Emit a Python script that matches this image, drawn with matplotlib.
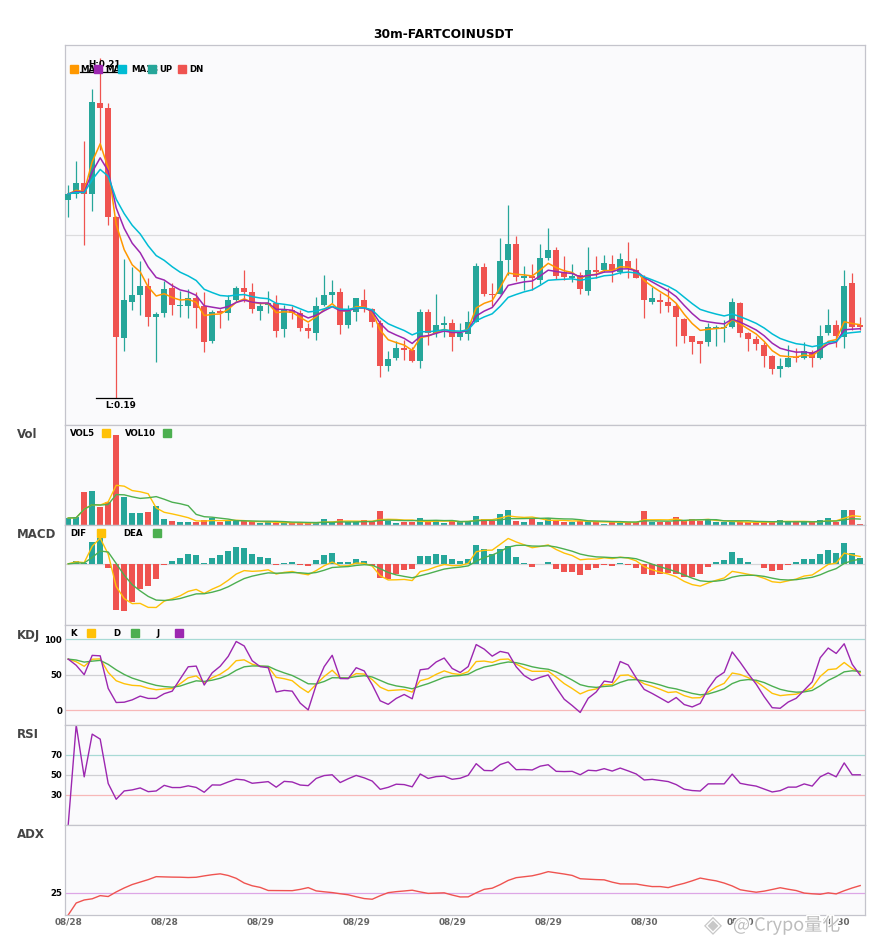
import matplotlib
matplotlib.use('Agg')
import matplotlib.pyplot as plt
import matplotlib.patheffects as pe
from matplotlib.ticker import MultipleLocator
from matplotlib.transforms import offset_copy
import numpy as np
import pandas as pd

symbol = '30m-FARTCOINUSDT'
times = pd.date_range('2025-08-28 13:00', periods=100, freq='30min')

opens = [0.20210, 0.20246, 0.20312, 0.20246, 0.20792, 0.20762, 0.20108, 0.19382, 0.19598, 0.19640,
         0.19694, 0.19508, 0.19532, 0.19682, 0.19574, 0.19574, 0.19622, 0.19574, 0.19364, 0.19544,
         0.19532, 0.19610, 0.19682, 0.19658, 0.19544, 0.19580, 0.19592, 0.19436, 0.19550, 0.19532,
         0.19442, 0.19412, 0.19580, 0.19640, 0.19658, 0.19460, 0.19538, 0.19610, 0.19556, 0.19472,
         0.19214, 0.19262, 0.19322, 0.19310, 0.19244, 0.19538, 0.19412, 0.19460, 0.19472, 0.19388,
         0.19406, 0.19478, 0.19808, 0.19646, 0.19646, 0.19850, 0.19946, 0.19742, 0.19754, 0.19730,
         0.19862, 0.19910, 0.19778, 0.19742, 0.19760, 0.19664, 0.19790, 0.19790, 0.19826, 0.19778,
         0.19844, 0.19790, 0.19748, 0.19598, 0.19610, 0.19598, 0.19574, 0.19496, 0.19394, 0.19364,
         0.19358, 0.19442, 0.19442, 0.19448, 0.19592, 0.19412, 0.19376, 0.19340, 0.19274, 0.19196,
         0.19208, 0.19268, 0.19262, 0.19298, 0.19262, 0.19412, 0.19460, 0.19388, 0.19712, 0.19460]
highs = [0.20300, 0.20444, 0.20564, 0.20876, 0.21062, 0.20792, 0.20114, 0.19856, 0.19808, 0.19844,
         0.19742, 0.19538, 0.19724, 0.19712, 0.19664, 0.19676, 0.19658, 0.19658, 0.19550, 0.19556,
         0.19640, 0.19694, 0.19790, 0.19712, 0.19598, 0.19664, 0.19640, 0.19580, 0.19574, 0.19550,
         0.19472, 0.19628, 0.19760, 0.19730, 0.19682, 0.19580, 0.19622, 0.19676, 0.19562, 0.19490,
         0.19304, 0.19364, 0.19370, 0.19328, 0.19556, 0.19556, 0.19646, 0.19514, 0.19496, 0.19472,
         0.19544, 0.19832, 0.19832, 0.19712, 0.19982, 0.20180, 0.19994, 0.19814, 0.19826, 0.19946,
         0.20042, 0.19928, 0.19874, 0.19826, 0.19778, 0.19928, 0.19874, 0.19880, 0.19880, 0.19892,
         0.19958, 0.19862, 0.19760, 0.19688, 0.19652, 0.19682, 0.19592, 0.19502, 0.19394, 0.19364,
         0.19472, 0.19460, 0.19490, 0.19622, 0.19598, 0.19418, 0.19394, 0.19358, 0.19280, 0.19262,
         0.19340, 0.19322, 0.19358, 0.19310, 0.19460, 0.19556, 0.19490, 0.19790, 0.19772, 0.19508]
lows = [0.20108, 0.20222, 0.19940, 0.20144, 0.20510, 0.20060, 0.19022, 0.19304, 0.19550, 0.19520,
        0.19454, 0.19238, 0.19508, 0.19520, 0.19508, 0.19502, 0.19442, 0.19298, 0.19352, 0.19442,
        0.19490, 0.19598, 0.19598, 0.19532, 0.19490, 0.19532, 0.19388, 0.19388, 0.19496, 0.19424,
        0.19382, 0.19370, 0.19574, 0.19592, 0.19406, 0.19442, 0.19484, 0.19538, 0.19448, 0.19148,
        0.19184, 0.19250, 0.19250, 0.19238, 0.19202, 0.19340, 0.19388, 0.19388, 0.19304, 0.19370,
        0.19370, 0.19478, 0.19634, 0.19574, 0.19646, 0.19760, 0.19724, 0.19670, 0.19670, 0.19706,
        0.19850, 0.19736, 0.19730, 0.19718, 0.19646, 0.19640, 0.19742, 0.19778, 0.19718, 0.19766,
        0.19742, 0.19742, 0.19502, 0.19586, 0.19532, 0.19538, 0.19334, 0.19352, 0.19286, 0.19232,
        0.19334, 0.19334, 0.19358, 0.19442, 0.19388, 0.19304, 0.19310, 0.19208, 0.19166, 0.19148,
        0.19208, 0.19238, 0.19256, 0.19208, 0.19256, 0.19400, 0.19328, 0.19322, 0.19430, 0.19430]
closes = [0.20246, 0.20312, 0.20246, 0.20798, 0.20762, 0.20108, 0.19388, 0.19610, 0.19640, 0.19694,
          0.19508, 0.19526, 0.19676, 0.19580, 0.19580, 0.19622, 0.19562, 0.19358, 0.19538, 0.19532,
          0.19610, 0.19682, 0.19658, 0.19556, 0.19574, 0.19592, 0.19424, 0.19550, 0.19532, 0.19442,
          0.19424, 0.19574, 0.19640, 0.19658, 0.19460, 0.19544, 0.19622, 0.19562, 0.19478, 0.19214,
          0.19256, 0.19322, 0.19310, 0.19244, 0.19538, 0.19412, 0.19460, 0.19472, 0.19388, 0.19412,
          0.19478, 0.19814, 0.19646, 0.19640, 0.19844, 0.19946, 0.19748, 0.19754, 0.19742, 0.19862,
          0.19910, 0.19754, 0.19748, 0.19754, 0.19676, 0.19790, 0.19778, 0.19832, 0.19784, 0.19856,
          0.19802, 0.19742, 0.19610, 0.19622, 0.19598, 0.19574, 0.19508, 0.19394, 0.19358, 0.19346,
          0.19448, 0.19448, 0.19448, 0.19598, 0.19412, 0.19376, 0.19346, 0.19274, 0.19196, 0.19214,
          0.19262, 0.19262, 0.19304, 0.19262, 0.19394, 0.19460, 0.19394, 0.19694, 0.19448, 0.19448]
# volume in millions
volumes = [2.1, 2.3, 9.8, 10.3, 5.5, 7.0, 27.1, 8.5, 3.7, 3.7,
           4.0, 5.8, 1.9, 1.3, 1.0, 1.0, 1.0, 1.6, 2.1, 0.8,
           1.3, 1.3, 1.1, 0.8, 0.5, 1.0, 0.6, 0.7, 0.6, 0.5,
           0.6, 1.0, 1.7, 0.8, 1.7, 0.8, 0.8, 1.6, 0.8, 4.1,
           1.3, 0.5, 0.8, 0.8, 2.2, 0.8, 1.3, 0.7, 1.1, 1.0,
           1.3, 2.8, 1.8, 1.1, 3.4, 4.6, 1.3, 1.0, 1.7, 1.0,
           2.1, 1.3, 0.8, 0.8, 1.3, 1.3, 0.8, 0.4, 0.8, 0.7,
           1.0, 1.0, 4.3, 0.8, 0.8, 0.8, 2.5, 1.3, 1.9, 1.3,
           1.5, 0.8, 0.8, 1.0, 0.8, 0.8, 0.8, 0.8, 1.3, 1.6,
           1.0, 0.8, 0.8, 0.8, 1.6, 2.2, 1.0, 4.6, 4.6, 0.4]

UP = '#26A69A'
DN = '#EF5350'

df = pd.DataFrame({'open': opens, 'high': highs, 'low': lows, 'close': closes, 'vol': volumes})
n = len(df)
x = np.arange(n)
c = df['close']

#------------Indicadores
ma5 = c.ewm(span=5, adjust=False).mean()
ma8 = c.ewm(span=8, adjust=False).mean()
ma13 = c.ewm(span=13, adjust=False).mean()
vol5 = df['vol'].rolling(5, min_periods=1).mean()
vol10 = df['vol'].rolling(10, min_periods=1).mean()

dif = c.ewm(span=6, adjust=False).mean() - c.ewm(span=13, adjust=False).mean()
dea = dif.ewm(span=5, adjust=False).mean()
hist = 2 * (dif - dea)

llv = df['low'].rolling(9, min_periods=1).min()
hhv = df['high'].rolling(9, min_periods=1).max()
rsv = (c - llv) / (hhv - llv) * 100
k = rsv.ewm(com=2, adjust=False).mean()
d = k.ewm(com=2, adjust=False).mean()
j = 3 * k - 2 * d

delta = c.diff().fillna(0)
gain = delta.clip(lower=0).ewm(alpha=1 / 14, adjust=False).mean()
loss = (-delta.clip(upper=0)).ewm(alpha=1 / 14, adjust=False).mean()
rsi = (100 * gain / (gain + loss)).fillna(0)

prev_c = c.shift(1)
tr = pd.concat([df['high'] - df['low'], (df['high'] - prev_c).abs(),
                (df['low'] - prev_c).abs()], axis=1).max(axis=1)
up_move = df['high'].diff()
dn_move = -df['low'].diff()
pdm = pd.Series(np.where((up_move > dn_move) & (up_move > 0), up_move, 0.0))
ndm = pd.Series(np.where((dn_move > up_move) & (dn_move > 0), dn_move, 0.0))
atr = tr.ewm(span=14, adjust=False).mean()
pdi = 100 * pdm.ewm(span=14, adjust=False).mean() / atr
ndi = 100 * ndm.ewm(span=14, adjust=False).mean() / atr
dx = (100 * (pdi - ndi).abs() / (pdi + ndi)).fillna(0)
adx = dx.ewm(span=14, adjust=False).mean()

#------------Figura
W, H = 885, 950
fig = plt.figure(figsize=(W / 100, H / 100), dpi=100)

def panel(top, bottom):
    ax = fig.add_axes([65 / W, 1 - bottom / H, 800 / W, (bottom - top) / H])
    ax.set_facecolor('#FAFAFC')
    for s in ax.spines.values():
        s.set_color('#C4C4CC')
        s.set_linewidth(0.9)
    ax.set_xlim(-0.4, n - 0.4)
    ax.tick_params(length=0, labelsize=6.2, pad=2)
    ax.set_xticks([])
    return ax

ax1 = panel(45, 425)
ax2 = panel(425, 525)
ax3 = panel(525, 625)
ax4 = panel(625, 725)
ax5 = panel(725, 825)
ax6 = panel(825, 915)

def legend(ax, items, frac_y, ax_w=800.0):
    for label, tx, color, sx in items:
        ax.text(tx / ax_w, frac_y, label, transform=ax.transAxes, fontsize=6.2,
                fontweight='bold', va='center', ha='left', zorder=5)
        ax.plot([sx / ax_w], [frac_y], marker='s', markersize=5.5, color=color,
                transform=ax.transAxes, clip_on=False, zorder=6, linestyle='none')

#--------Velas
colors = [UP if cl >= op else DN for op, cl in zip(opens, closes)]
body = np.maximum(np.abs(c - df['open']), 0.00004)
ax1.vlines(x, df['low'], df['high'], colors=colors, linewidth=0.9, zorder=2)
ax1.bar(x, body, bottom=np.minimum(df['open'], c), width=0.75, color=colors, linewidth=0, zorder=3)
ax1.plot(x, ma5, color='#FF9800', lw=1.1, zorder=4)
ax1.plot(x, ma8, color='#9C27B0', lw=1.1, zorder=4)
ax1.plot(x, ma13, color='#00BCD4', lw=1.1, zorder=4)
lo, hi = df['low'].min(), df['high'].max()
rng = hi - lo
ax1.set_ylim(lo - 0.079 * rng, hi + 0.038 * rng)
ax1.yaxis.set_major_locator(MultipleLocator(0.02))
ax1.grid(axis='y', color='#DCDCDE', lw=0.9)
ax1.set_axisbelow(True)
ax1.set_yticklabels([])

ih = int(df['high'].idxmax())
il = int(df['low'].idxmin())
# la marca del maximo queda debajo del texto
h_trans = offset_copy(ax1.transData, fig=fig, y=-14, units='dots')
ax1.plot([ih - 2.5, ih + 2.5], [hi, hi], color='black', lw=0.9, zorder=5, transform=h_trans)
ax1.annotate(f'H:{hi:.2f}', (ih + 0.5, hi), xytext=(0, -1.5), textcoords='offset points',
             ha='center', va='top', fontsize=6.3, fontweight='bold', zorder=5)
ax1.plot([il - 2.5, il + 2], [lo, lo], color='black', lw=0.9, zorder=5)
ax1.annotate(f'L:{lo:.2f}', (il + 0.5, lo), xytext=(0, -2), textcoords='offset points',
             ha='center', va='top', fontsize=6.3, fontweight='bold', zorder=5)
legend(ax1, [('MA5', 15.7, '#FF9800', 8.7), ('MA8', 40, '#9C27B0', 33),
             ('MA13', 66, '#00BCD4', 57), ('UP', 94.3, UP, 87), ('DN', 124.3, DN, 117)],
       1 - 24 / 380)

#--------Volumen
ax2.bar(x, df['vol'], width=0.75, color=colors, linewidth=0)
ax2.plot(x, vol5, color='#FFC107', lw=1.0)
ax2.plot(x, vol10, color='#4CAF50', lw=1.0)
ax2.set_ylim(0, df['vol'].max() * 1.11)
ax2.set_yticks([])
legend(ax2, [('VOL5', 5, '#FFC107', 40.5), ('VOL10', 60, '#4CAF50', 101.7)], 0.92)

#--------MACD
ax3.axhline(0, color='#D6D6D8', lw=0.9, zorder=1)
ax3.bar(x, hist, width=0.75, color=[UP if h >= 0 else DN for h in hist], linewidth=0, zorder=2)
ax3.plot(x, dif, color='#FFC107', lw=1.0, zorder=3)
ax3.plot(x, dea, color='#4CAF50', lw=1.0, zorder=3)
mn = min(hist.min(), dif.min(), dea.min())
mx = max(hist.max(), dif.max(), dea.max())
ax3.set_ylim(mn - 0.2 * (mx - mn), mx + 0.18 * (mx - mn))
ax3.set_yticks([])
legend(ax3, [('DIF', 5, '#FFC107', 36), ('DEA', 58.3, '#4CAF50', 92)], 0.92)

#--------KDJ
ax4.axhline(100, color='#A8DAD5', lw=0.9)
ax4.axhline(50, color='#D0D0D4', lw=0.9)
ax4.axhline(0, color='#F7B8B8', lw=0.9)
ax4.plot(x, k, color='#FFC107', lw=1.0)
ax4.plot(x, d, color='#4CAF50', lw=1.0)
ax4.plot(x, j, color='#9C27B0', lw=1.0)
ax4.set_ylim(-21, 120)
ax4.set_yticks([0, 50, 100])
legend(ax4, [('K', 5, '#FFC107', 26), ('D', 48, '#4CAF50', 70), ('J', 91.7, '#9C27B0', 114)], 0.917)

#--------RSI
ax5.axhline(70, color='#A8DAD5', lw=0.9)
ax5.axhline(50, color='#D0D0D4', lw=0.9)
ax5.axhline(30, color='#F7B8B8', lw=0.9)
ax5.plot(x, rsi, color='#9C27B0', lw=1.0)
ax5.set_ylim(0, 100)
ax5.set_yticks([30, 50, 70])

#--------ADX
ax6.axhline(25, color='#DDA6E6', lw=0.9)
ax6.plot(x, adx, color='#EF5350', lw=1.0)
ax6.set_ylim(0, 100)
ax6.set_yticks([25])
tick_pos = list(range(0, n, 12))
ax6.set_xticks(tick_pos)
ax6.set_xticklabels([times[i].strftime('%m/%d') for i in tick_pos])
ax6.tick_params(axis='x', labelsize=6.4, labelcolor='#666666', pad=2)

for ax in [ax4, ax5, ax6]:
    for lb in ax.get_yticklabels() + ax.get_xticklabels():
        lb.set_fontweight('bold')

#--------Textos
fig.text(443 / W, 1 - 34 / H, symbol, ha='center', va='center', fontsize=8.8, fontweight='bold')
for name, top in [('Vol', 425), ('MACD', 525), ('KDJ', 625), ('RSI', 725), ('ADX', 825)]:
    fig.text(17 / W, 1 - (top + 10) / H, name, ha='left', va='center', fontsize=8.5,
             fontweight='bold', color='#444444')

wm = [pe.withStroke(linewidth=2, foreground='white')]
fig.text(713 / W, 1 - 925 / H, '\u25c8', ha='center', va='center', fontsize=17, color='#C8C8C8',
         family='DejaVu Sans', path_effects=wm)
fig.text(733 / W, 1 - 925 / H, '@ Crypo量化', ha='left', va='center', fontsize=13, color='#BDBDBD',
         family=['Noto Sans CJK SC', 'DejaVu Sans'], path_effects=wm)

plt.savefig('out.png', dpi=100)
